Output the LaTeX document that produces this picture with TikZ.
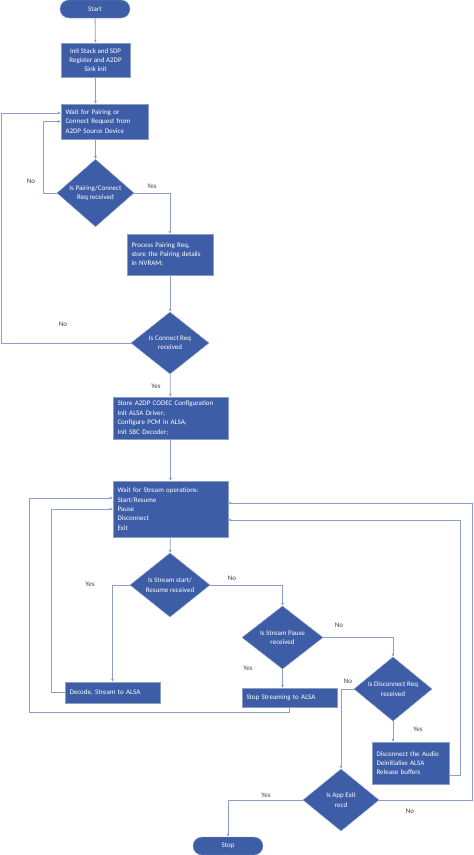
\documentclass[tikz,border=0pt]{standalone}
\usepackage{fontspec}
\setmainfont{Carlito}
\usetikzlibrary{shapes.geometric,arrows.meta}
\definecolor{boxblue}{HTML}{3D5DA7}
\definecolor{lineblue}{HTML}{8E9EC6}
\definecolor{labelgrey}{HTML}{404040}
\begin{document}
\begin{tikzpicture}[x=1pt,y=-1pt]

      \tikzset{box/.style={draw=lineblue, fill=boxblue, text=white, font=\fontsize{7}{9.4}\selectfont, inner sep=0pt},
               lbox/.style={box, align=left, inner xsep=4.5pt},
               term/.style={box, rounded corners=9pt, minimum width=70pt, minimum height=18pt},
               decide/.style={box, diamond, align=center, inner sep=0pt},
               arrow/.style={draw=lineblue, line width=0.8pt, -{Latex[length=3pt,width=3pt]}},
               lbl/.style={text=labelgrey, font=\fontsize{7}{8}\selectfont}}
      \useasboundingbox (0,0) rectangle (474,855);
% Vertices
	%Start and pairing
      	\node[term] (s) at (95,9) {Start};
      	\node[box, align=center, minimum width=69pt, minimum height=34pt] (b1) at (95.5,60) {Init Stack and SDP\\Register and A2DP\\Sink init};
      	\node[lbox, text width=78pt, minimum height=35pt] (b2) at (104.5,121.5) {Wait for Pairing or\\Connect Request from\\A2DP Source Device};
      	\node[decide, minimum width=77pt, minimum height=62pt] (d1) at (95.5,193) {Is Pairing/Connect\\Req received};
      	\node[lbox, text width=77pt, minimum height=41pt] (b3) at (170,254.5) {Process Pairing Req,\\store the Pairing details\\in NVRAM;};
      	\node[decide, minimum width=78pt, minimum height=62pt] (d2) at (170,343) {Is Connect Req\\received};
      	
	%Stream setup
      	\node[lbox, text width=106pt, minimum height=42pt] (b4) at (170.5,418) {Store A2DP CODEC Configuration\\Init ALSA Driver;\\Configure PCM in ALSA;\\Init SBC Decoder;};
      	\node[lbox, text width=106pt, minimum height=56pt] (b5) at (170.5,509) {Wait for Stream operations:\\Start/Resume\\Pause\\Disconnect\\Exit};
      	
	%Stream operations
      	\node[decide, minimum width=80pt, minimum height=64pt] (d3) at (170,585) {Is Stream start/\\Resume received};
      	\node[lbox, text width=86pt, minimum height=21pt] (b6) at (112.5,692.5) {Decode, Stream to ALSA};
      	\node[decide, minimum width=81pt, minimum height=63pt] (d4) at (282.5,637.5) {Is Stream Pause\\received};
      	\node[lbox, text width=86pt, minimum height=19pt] (b7) at (289.5,697.5) {Stop Streaming to ALSA};
      	\node[decide, minimum width=78pt, minimum height=62pt] (d5) at (393,689) {Is Disconnect Req\\received};
      	\node[lbox, text width=68pt, minimum height=42pt] (b8) at (410.5,763) {Disconnect the Audio\\Deinitialise ALSA\\Release buffers};
      	\node[decide, minimum width=76pt, minimum height=62pt] (d6) at (341,800) {Is App Exit\\recd};
      	\node[term] (e) at (228,846) {Stop};

%Edges
	%Start and pairing
		\draw[arrow] (s) -- (b1);
		\draw[arrow] (b1.south) -- (b1.south |- b2.north);
		\draw[arrow] (d1.north |- b2.south) -- (d1.north);
		\draw[arrow] (d1.west) -- ++(-13,0) |- (b2.west);
		\draw[arrow] (d1.east) -| (b3.north);
		\draw[arrow] (b3) -- (d2);
		\draw[arrow] (d2.west) -| (1,113) -- (b2.west |- 1,113);
		\draw[arrow] (d2) -- (b4);
		\draw[arrow] (b4) -- (b5);
		
	%Stream operations
		\draw[arrow] (b5) -- (d3);
		\draw[arrow] (d3.west) -| (b6.north);
		\draw[arrow] (b6.west) -- ++(-13,0) |- (b5.west);
		\draw[arrow] (d3.east) -| (d4.north);
		\draw[arrow] (d4.south) -- (d4.south |- b7.north);
		\draw[arrow] (b7.south) |- (29,712) |- ([yshift=11pt]b5.west);
		\draw[arrow] (d4.east) -| (d5.north);
		\draw[arrow] (d5.west) -| (d6.north);
		\draw[arrow] (d5.south) -- (d5.south |- b8.north);
		\draw[arrow] ([yshift=-12pt]b8.east) -| (460,520) -- ([yshift=-11pt]b5.east);
		\draw[arrow] (d6.east) -| (472,503) -- ([yshift=6pt]b5.east);
		\draw[arrow] (d6.west) -| (e.north);

	%Labels
		\node[lbl] (n1) at (31,181) {No};
		\node[lbl] (y1) at (152,186) {Yes};
		\node[lbl] (n2) at (63,324) {No};
		\node[lbl] (y2) at (156,386) {Yes};
		\node[lbl] (y3) at (90,584) {Yes};
		\node[lbl] (n3) at (232,578) {No};
		\node[lbl] (y4) at (248,668) {Yes};
		\node[lbl] (n4) at (339,625) {No};
		\node[lbl] (n5) at (348,681) {No};
		\node[lbl] (y5) at (418,729) {Yes};
		\node[lbl] (y6) at (266,795) {Yes};
		\node[lbl] (n6) at (410,811) {No};

	\end{tikzpicture}
\end{document}
